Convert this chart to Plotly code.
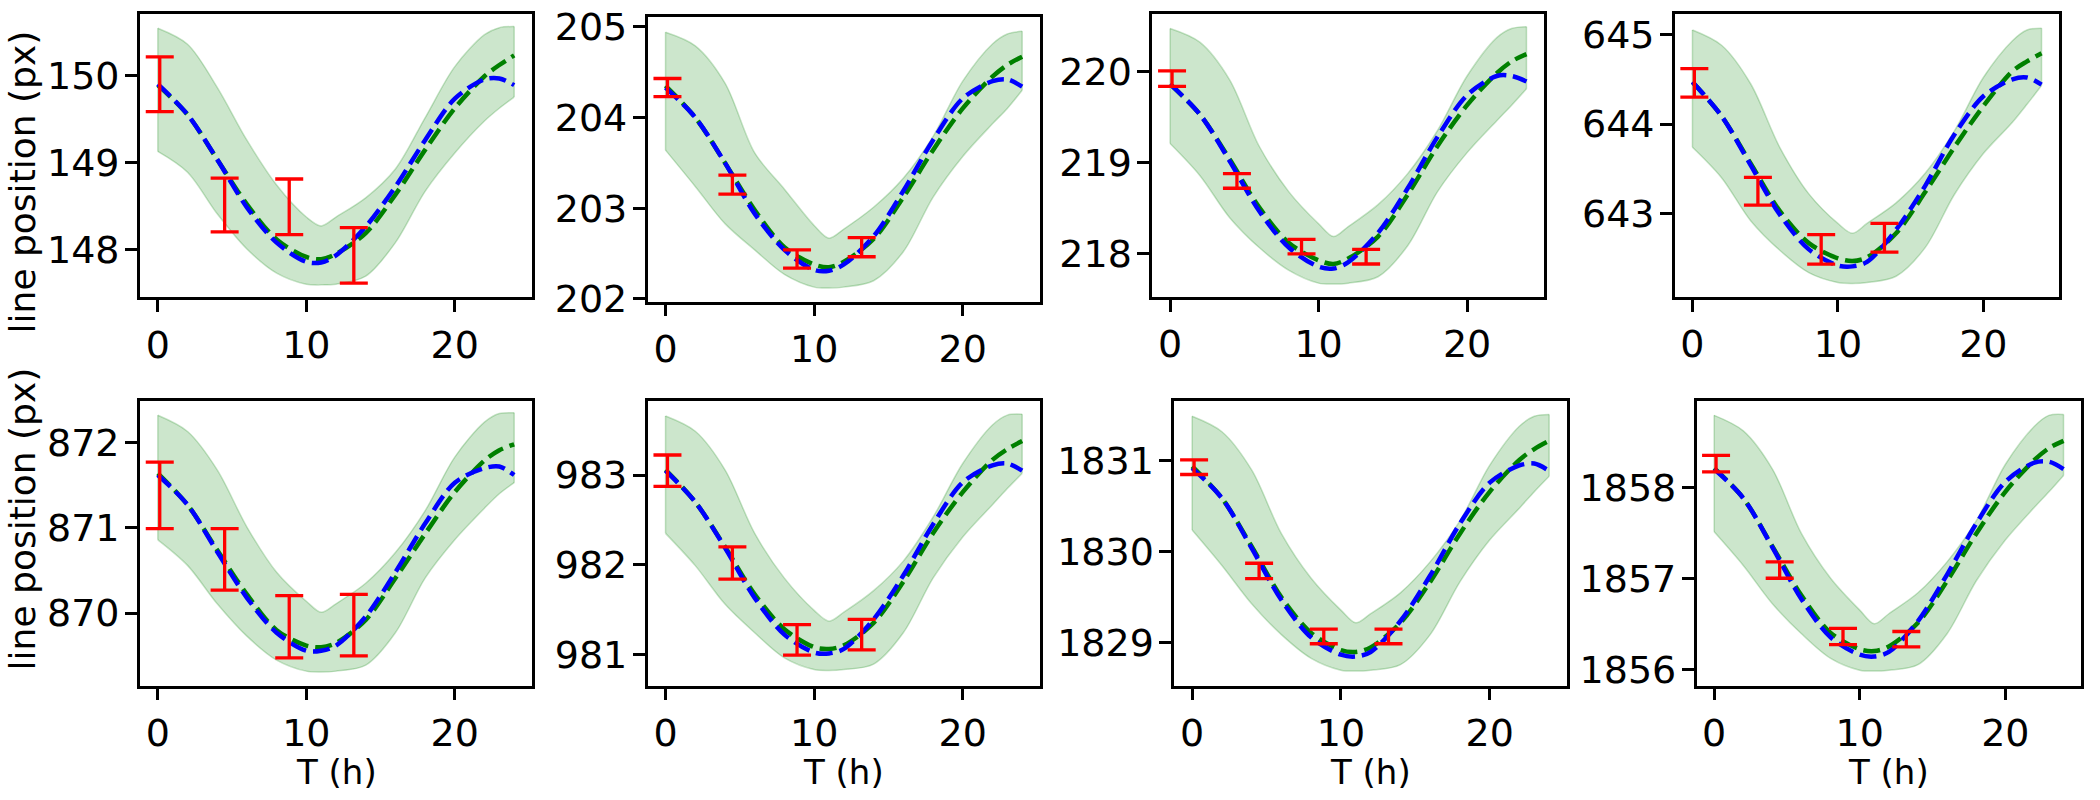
import plotly.graph_objects as go

# ---------------- data ----------------
T = [0, 2, 4, 6, 8, 10, 11, 12, 14, 16, 18, 20, 22, 23, 24]
T_MEAS = [0.13, 4.5, 8.85, 13.2]

BAND_UPPER = [
    [150.545, 150.361, 149.864, 149.256, 148.740, 148.372, 148.269, 148.372, 148.593, 148.925, 149.514, 150.103, 150.471, 150.552, 150.564],
    [204.94, 204.79, 204.38, 203.61, 203.21, 202.81, 202.67, 202.77, 203.01, 203.33, 203.79, 204.40, 204.81, 204.92, 204.95],
    [220.47, 220.32, 219.91, 219.18, 218.68, 218.33, 218.19, 218.30, 218.54, 218.88, 219.35, 219.95, 220.37, 220.47, 220.49],
    [645.05, 644.88, 644.45, 643.74, 643.22, 642.89, 642.78, 642.89, 643.12, 643.45, 643.92, 644.52, 644.93, 645.05, 645.07],
    [872.32, 872.13, 871.68, 871.01, 870.48, 870.14, 870.01, 870.11, 870.35, 870.71, 871.20, 871.83, 872.24, 872.34, 872.35],
    [983.66, 983.49, 983.06, 982.35, 981.85, 981.49, 981.37, 981.47, 981.71, 982.04, 982.53, 983.13, 983.56, 983.67, 983.68],
    [1831.49, 1831.32, 1830.90, 1830.20, 1829.71, 1829.36, 1829.22, 1829.32, 1829.55, 1829.89, 1830.34, 1830.95, 1831.38, 1831.49, 1831.51],
    [1858.79, 1858.62, 1858.20, 1857.49, 1857.00, 1856.65, 1856.50, 1856.61, 1856.84, 1857.18, 1857.63, 1858.25, 1858.67, 1858.79, 1858.80],
]
BAND_LOWER = [
    [149.127, 148.888, 148.409, 148.004, 147.727, 147.599, 147.591, 147.599, 147.691, 148.077, 148.667, 149.109, 149.477, 149.624, 149.753],
    [203.64, 203.24, 202.83, 202.54, 202.27, 202.13, 202.12, 202.13, 202.20, 202.52, 203.12, 203.57, 203.93, 204.10, 204.30],
    [219.21, 218.86, 218.40, 218.07, 217.82, 217.68, 217.67, 217.68, 217.75, 218.09, 218.68, 219.11, 219.46, 219.63, 219.81],
    [643.74, 643.40, 642.92, 642.59, 642.34, 642.23, 642.22, 642.23, 642.30, 642.62, 643.21, 643.67, 644.02, 644.22, 644.43],
    [870.86, 870.56, 870.11, 869.73, 869.45, 869.32, 869.31, 869.32, 869.39, 869.77, 870.41, 870.86, 871.23, 871.40, 871.53],
    [982.35, 981.99, 981.56, 981.24, 980.96, 980.83, 980.82, 980.83, 980.89, 981.24, 981.85, 982.31, 982.67, 982.85, 983.02],
    [1830.24, 1829.85, 1829.43, 1829.09, 1828.83, 1828.70, 1828.69, 1828.70, 1828.76, 1829.09, 1829.67, 1830.13, 1830.48, 1830.66, 1830.83],
    [1857.51, 1857.14, 1856.72, 1856.39, 1856.12, 1855.99, 1855.98, 1855.99, 1856.05, 1856.39, 1856.97, 1857.42, 1857.78, 1857.95, 1858.13],
]
MODEL_GREEN = [
    [149.890, 149.551, 149.035, 148.519, 148.114, 147.912, 147.886, 147.948, 148.188, 148.630, 149.145, 149.624, 149.993, 150.122, 150.232],
    [204.35, 204.00, 203.50, 202.98, 202.57, 202.38, 202.35, 202.41, 202.66, 203.12, 203.64, 204.10, 204.45, 204.58, 204.67],
    [219.86, 219.53, 219.04, 218.51, 218.12, 217.93, 217.89, 217.95, 218.19, 218.65, 219.18, 219.63, 219.98, 220.11, 220.19],
    [644.47, 644.09, 643.56, 643.03, 642.67, 642.50, 642.47, 642.51, 642.78, 643.24, 643.74, 644.20, 644.59, 644.70, 644.79],
    [871.64, 871.27, 870.74, 870.22, 869.80, 869.62, 869.60, 869.65, 869.92, 870.41, 870.93, 871.42, 871.79, 871.91, 871.98],
    [983.06, 982.70, 982.20, 981.67, 981.28, 981.08, 981.06, 981.10, 981.35, 981.81, 982.35, 982.81, 983.17, 983.29, 983.38],
    [1830.94, 1830.59, 1830.06, 1829.50, 1829.11, 1828.92, 1828.90, 1828.95, 1829.22, 1829.67, 1830.20, 1830.66, 1831.01, 1831.13, 1831.22],
    [1858.21, 1857.88, 1857.35, 1856.81, 1856.40, 1856.22, 1856.20, 1856.25, 1856.51, 1856.97, 1857.49, 1857.95, 1858.30, 1858.43, 1858.51],
]
FIT_BLUE = [
    [149.901, 149.551, 149.035, 148.483, 148.077, 147.856, 147.849, 147.930, 148.262, 148.722, 149.256, 149.735, 149.956, 149.967, 149.890],
    [204.33, 204.00, 203.50, 202.94, 202.54, 202.32, 202.31, 202.38, 202.69, 203.19, 203.75, 204.21, 204.40, 204.42, 204.34],
    [219.86, 219.53, 219.02, 218.47, 218.07, 217.86, 217.84, 217.91, 218.23, 218.72, 219.28, 219.74, 219.95, 219.95, 219.89],
    [644.47, 644.09, 643.54, 642.99, 642.60, 642.42, 642.41, 642.46, 642.82, 643.31, 643.88, 644.31, 644.50, 644.52, 644.44],
    [871.62, 871.27, 870.72, 870.18, 869.77, 869.56, 869.56, 869.62, 869.96, 870.48, 871.05, 871.53, 871.70, 871.72, 871.62],
    [983.05, 982.70, 982.19, 981.63, 981.22, 981.02, 981.01, 981.06, 981.39, 981.88, 982.45, 982.92, 983.11, 983.13, 983.05],
    [1830.92, 1830.59, 1830.04, 1829.47, 1829.06, 1828.87, 1828.85, 1828.90, 1829.24, 1829.74, 1830.31, 1830.76, 1830.95, 1830.97, 1830.89],
    [1858.20, 1857.88, 1857.34, 1856.77, 1856.35, 1856.16, 1856.14, 1856.19, 1856.53, 1857.04, 1857.60, 1858.06, 1858.27, 1858.28, 1858.20],
]
MEAS_MEAN = [
    [149.90, 148.51, 148.49, 147.93],
    [204.33, 203.26, 202.44, 202.57],
    [219.92, 218.80, 218.08, 217.97],
    [644.46, 643.25, 642.60, 642.73],
    [871.38, 870.63, 869.84, 869.86],
    [983.05, 982.02, 981.16, 981.22],
    [1830.93, 1829.79, 1829.07, 1829.07],
    [1858.26, 1857.09, 1856.36, 1856.33],
]
MEAS_ERR = [
    [0.315, 0.31, 0.32, 0.32],
    [0.10, 0.105, 0.10, 0.105],
    [0.085, 0.08, 0.08, 0.08],
    [0.16, 0.155, 0.165, 0.16],
    [0.39, 0.36, 0.365, 0.36],
    [0.175, 0.18, 0.17, 0.17],
    [0.08, 0.085, 0.08, 0.08],
    [0.09, 0.09, 0.09, 0.085],
]
Y_TITLE = "line position (px)"
X_TITLE = "T (h)"

# ---------------- layout (pixel geometry of the panels) ----------------
W, H = 2100, 800
# left, right, top, bottom in px
PANEL_BOX = [
    (140, 532, 2, 297), (647.7, 1040, 5, 301.7), (1152.3, 1544.3, 2, 296.7), (1675, 2059, 2, 296.7),
    (140, 532, 405, 701.7), (647.7, 1040, 405, 701.7), (1174.3, 1567, 405, 701.7), (1696.7, 2081, 405, 701.7),
]
Y_RANGES = [
    [147.45, 150.71], [201.97, 205.11], [217.53, 220.63], [642.07, 645.23],
    [869.15, 872.49], [980.65, 983.83], [1828.53, 1831.66], [1855.82, 1858.95],
]

FONT = "DejaVu Sans"
TICK_FS = 38
YLABEL_FS = 36
XLABEL_FS = 34
BAND_FILL = "rgba(0,128,0,0.2)"
BAND_EDGE = "rgba(0,128,0,0.22)"
DASH = "17px,7px"

fig = go.Figure()
layout = dict(
    width=W, height=H, margin=dict(l=0, r=0, t=0, b=0),
    paper_bgcolor="white", plot_bgcolor="white", showlegend=False,
    font=dict(family=FONT, size=TICK_FS, color="black"),
)
annotations = []

for i in range(8):
    k = "" if i == 0 else str(i + 1)
    xa, ya = "x" + k, "y" + k
    l, r, t, b = PANEL_BOX[i]
    common = dict(showgrid=False, zeroline=False, showline=True, linecolor="black", linewidth=2.7,
                  mirror=True, ticks="outside", ticklen=12, tickwidth=2.7, tickcolor="black",
                  ticklabeloverflow="allow",
                  tickfont=dict(family=FONT, size=TICK_FS, color="black"))
    layout["xaxis" + k] = dict(domain=[l / W, r / W], anchor=ya, range=[-1.2, 25.2],
                               tickvals=[0, 10, 20], ticklabelstandoff=0, **common)
    layout["yaxis" + k] = dict(domain=[1 - b / H, 1 - t / H], anchor=xa, range=Y_RANGES[i],
                               dtick=1, tick0=0, ticklabelstandoff=-2, **common)

    up, lo = BAND_UPPER[i], BAND_LOWER[i]
    fig.add_trace(go.Scatter(x=T, y=lo, xaxis=xa, yaxis=ya, mode="lines",
                             line=dict(color=BAND_EDGE, width=1.5, shape="spline", smoothing=0.9),
                             hoverinfo="skip"))
    fig.add_trace(go.Scatter(x=T, y=up, xaxis=xa, yaxis=ya, mode="lines", fill="tonexty",
                             fillcolor=BAND_FILL,
                             line=dict(color=BAND_EDGE, width=1.5, shape="spline", smoothing=0.9),
                             hoverinfo="skip"))
    # vertical closing edges of the band
    for j in (0, -1):
        fig.add_trace(go.Scatter(x=[T[j], T[j]], y=[lo[j], up[j]], xaxis=xa, yaxis=ya, mode="lines",
                                 line=dict(color=BAND_EDGE, width=1.5), hoverinfo="skip"))
    fig.add_trace(go.Scatter(x=T, y=MODEL_GREEN[i], xaxis=xa, yaxis=ya, mode="lines",
                             line=dict(color="#008000", width=4.5, dash=DASH, shape="spline", smoothing=0.9)))
    fig.add_trace(go.Scatter(x=T, y=FIT_BLUE[i], xaxis=xa, yaxis=ya, mode="lines",
                             line=dict(color="#0000ff", width=4.5, dash=DASH, shape="spline", smoothing=0.9)))
    fig.add_trace(go.Scatter(x=T_MEAS, y=MEAS_MEAN[i], xaxis=xa, yaxis=ya, mode="markers",
                             marker=dict(size=1, color="rgba(0,0,0,0)"),
                             error_y=dict(type="data", array=MEAS_ERR[i], visible=True,
                                          color="#ff0000", thickness=3.3, width=14)))
    if i >= 4:
        annotations.append(dict(text=X_TITLE, xref="paper", yref="paper", x=(l + r) / 2 / W, y=1 - 769 / H,
                                xanchor="center", yanchor="top", showarrow=False,
                                font=dict(family=FONT, size=XLABEL_FS, color="black")))

for yc in (177, 528):
    annotations.append(dict(text=Y_TITLE, xref="paper", yref="paper", x=0, y=1 - yc / H,
                            xanchor="left", yanchor="middle", textangle=-90, showarrow=False,
                            font=dict(family=FONT, size=YLABEL_FS, color="black")))

layout["annotations"] = annotations
fig.update_layout(**layout)
fig.write_html("out.html")
